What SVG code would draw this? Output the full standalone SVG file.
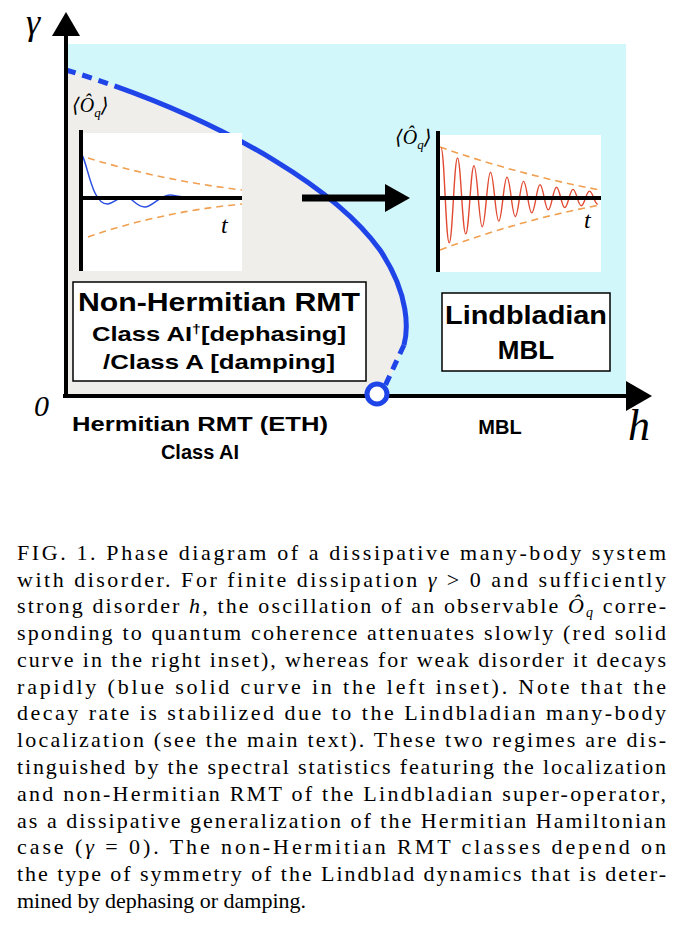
<svg xmlns="http://www.w3.org/2000/svg" width="682" height="940" viewBox="0 0 682 940">
<style>
.b{font-family:"Liberation Sans",Arial,sans-serif;font-weight:bold;fill:#000;text-anchor:middle}
.m{font-family:"Liberation Serif","DejaVu Serif","Times New Roman",serif;font-style:italic;fill:#000}
.c{font-family:"Liberation Serif","Times New Roman",serif;font-size:22px;fill:#000}
.env{fill:none;stroke:#f0a050;stroke-width:1.6;stroke-dasharray:7,5}
.ax{stroke:#000;stroke-width:4}
</style>
<rect width="682" height="940" fill="#fff"/>
<g id="phases">
<rect x="66" y="44" width="560" height="350" fill="#d2f7fa"/>
<path d="M66,70 C200,110 330,180 380,250 C410,295 408,330 404,345 L388,383 L372,395 L66,395 Z" fill="#efeeeb"/>
</g>
<g id="boundary" fill="none" stroke="#1f45e8" stroke-width="5">
<path d="M66,70 C200,110 330,180 380,250 C410,295 408,330 404,345" stroke-dasharray="10,7,10,7,10,7,2000"/>
<path d="M404,345 L385,386" stroke-dasharray="10,7"/>
</g>
<g id="axes">
<line class="ax" x1="66" y1="395" x2="66" y2="30" stroke-width="7"/>
<polygon points="52,36 66,12 80,36"/>
<line class="ax" x1="63" y1="396" x2="632" y2="396" stroke-width="7"/>
<polygon points="626,381 652,396 626,411"/>
<text class="m" x="26" y="34" font-size="36">γ</text>
<text class="m" x="34" y="416" font-size="30">0</text>
<text class="m" x="628" y="440" font-size="44">h</text>
</g>
<g id="critical"><circle cx="377" cy="394" r="10" fill="#fff" stroke="#1f45e8" stroke-width="5"/></g>
<g id="left-inset">
<rect x="81" y="133" width="161" height="138" fill="#fff"/>
<path class="env" d="M88,158 Q160,180 242,190"/>
<path class="env" d="M88,237 Q160,212 242,204"/>
<path d="M82,155 C88,165 92,205 108,204 C114,203 118,197 126,197 C132,197 136,207 145,207 C152,207 160,195 170,195 C176,195 180,198 198,198" fill="none" stroke="#2a4ee0" stroke-width="1.5"/>
<line class="ax" x1="81" y1="130" x2="81" y2="271" stroke-width="3.5"/>
<line class="ax" x1="81" y1="198" x2="242" y2="198" stroke-width="3.5"/>
<text class="m" x="72" y="112" font-size="20">⟨Ô<tspan font-size="13" dy="5">q</tspan><tspan dy="-5">⟩</tspan></text>
<text class="m" x="221" y="233" font-size="24">t</text>
</g>
<g id="right-inset">
<rect x="438" y="135" width="163" height="137" fill="#fff"/>
<path class="env" d="M440,147 Q520,175 600,190"/>
<path class="env" d="M440,250 Q520,220 600,205"/>
<path fill="none" stroke="#e04a30" stroke-width="1.4" d="M441,148 C444.5,148 445.7,242.8 449.25,242.8 C452.5,242.8 454.2,157.9 457.5,157.9 C460.8,157.9 462.4,233.9 465.75,233.9 C469,233.9 470.7,165.8 474,165.8 C477.3,165.8 479,226.8 482.25,226.8 C485.5,226.8 487.2,172.2 490.5,172.2 C493.8,172.2 495.5,221.1 498.75,221.1 C502,221.1 503.7,177.3 507,177.3 C510.3,177.3 512,216.5 515.25,216.5 C518.5,216.5 520.2,181.4 523.5,181.4 C526.8,181.4 528.5,212.9 531.75,212.9 C535,212.9 536.7,184.7 540,184.7 C543.3,184.7 545,209.9 548.25,209.9 C551.5,209.9 553.2,187.3 556.5,187.3 C559.8,187.3 561.5,207.6 564.75,207.6 C568,207.6 569.7,189.4 573,189.4 C576.3,189.4 578,205.7 581.25,205.7 C584.5,205.7 586.2,191.1 589.5,191.1 C592.8,191.1 594.5,204.2 597.75,204.2"/>
<line class="ax" x1="438" y1="131" x2="438" y2="272" stroke-width="3.5"/>
<line class="ax" x1="438" y1="198" x2="601" y2="198" stroke-width="3.5"/>
<text class="m" x="395" y="144" font-size="20">⟨Ô<tspan font-size="13" dy="5">q</tspan><tspan dy="-5">⟩</tspan></text>
<text class="m" x="584" y="228" font-size="24">t</text>
</g>
<g id="arrow">
<line x1="302" y1="198" x2="392" y2="198" stroke="#000" stroke-width="7"/>
<polygon points="385,184 410,198 385,212"/>
</g>
<g id="nh-box">
<rect x="73" y="282" width="293" height="99" fill="#fff" stroke="#000" stroke-width="1.5"/>
<text class="b" x="219" y="311" font-size="25" textLength="282" lengthAdjust="spacingAndGlyphs">Non-Hermitian RMT</text>
<text class="b" x="219" y="341" font-size="21" textLength="254" lengthAdjust="spacingAndGlyphs">Class AI<tspan font-size="13" dy="-8">†</tspan><tspan dy="8">[dephasing]</tspan></text>
<text class="b" x="219" y="369" font-size="21" textLength="232" lengthAdjust="spacingAndGlyphs">/Class A [damping]</text>
</g>
<g id="mbl-box">
<rect x="442" y="293" width="168" height="78" fill="#fff" stroke="#000" stroke-width="1.5"/>
<text class="b" x="526" y="324" font-size="26" textLength="162" lengthAdjust="spacingAndGlyphs">Lindbladian</text>
<text class="b" x="526" y="359" font-size="26">MBL</text>
</g>
<g id="labels">
<text class="b" x="200" y="431" font-size="20" textLength="256" lengthAdjust="spacingAndGlyphs">Hermitian RMT (ETH)</text>
<text class="b" x="200" y="459" font-size="20">Class AI</text>
<text class="b" x="500" y="434" font-size="20">MBL</text>
</g>
<g id="caption">
<text class="c" x="17" y="560" textLength="649" lengthAdjust="spacing">FIG. 1.   Phase diagram of a dissipative many-body system</text>
<text class="c" x="17" y="587" textLength="649" lengthAdjust="spacing">with disorder. For finite dissipation <tspan font-style="italic">γ</tspan> &gt; 0 and sufficiently</text>
<text class="c" x="17" y="613" textLength="649" lengthAdjust="spacing">strong disorder <tspan font-style="italic">h</tspan>, the oscillation of an observable <tspan font-style="italic">Ô</tspan><tspan font-style="italic" font-size="14" dy="4">q</tspan><tspan dy="-4"> corre-</tspan></text>
<text class="c" x="17" y="640" textLength="649" lengthAdjust="spacing">sponding to quantum coherence attenuates slowly (red solid</text>
<text class="c" x="17" y="667" textLength="649" lengthAdjust="spacing">curve in the right inset), whereas for weak disorder it decays</text>
<text class="c" x="17" y="694" textLength="649" lengthAdjust="spacing">rapidly (blue solid curve in the left inset).  Note that the</text>
<text class="c" x="17" y="720" textLength="649" lengthAdjust="spacing">decay rate is stabilized due to the Lindbladian many-body</text>
<text class="c" x="17" y="747" textLength="649" lengthAdjust="spacing">localization (see the main text).  These two regimes are dis-</text>
<text class="c" x="17" y="774" textLength="649" lengthAdjust="spacing">tinguished by the spectral statistics featuring the localization</text>
<text class="c" x="17" y="801" textLength="649" lengthAdjust="spacing">and non-Hermitian RMT of the Lindbladian super-operator,</text>
<text class="c" x="17" y="828" textLength="649" lengthAdjust="spacing">as a dissipative generalization of the Hermitian Hamiltonian</text>
<text class="c" x="17" y="854" textLength="649" lengthAdjust="spacing">case (<tspan font-style="italic">γ</tspan> = 0).  The non-Hermitian RMT classes depend on</text>
<text class="c" x="17" y="881" textLength="649" lengthAdjust="spacing">the type of symmetry of the Lindblad dynamics that is deter-</text>
<text class="c" x="17" y="908">mined by dephasing or damping.</text>
</g>
</svg>
